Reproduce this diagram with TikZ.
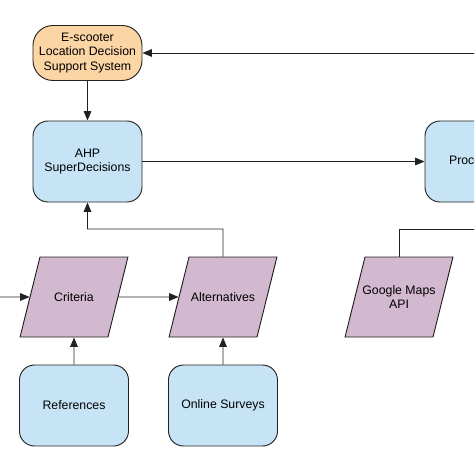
\documentclass[tikz,border=0pt]{standalone}
\usepackage{fontspec}
\setmainfont{Liberation Sans}
\usetikzlibrary{shapes.geometric, arrows.meta, positioning}
\usepackage{xcolor}
\definecolor{startfill}{RGB}{252,213,165}
\definecolor{procfill}{RGB}{198,228,246}
\definecolor{datafill}{RGB}{210,185,207}
\definecolor{edgecol}{RGB}{34,34,34}
\newcommand{\databox}[1]{\parbox[c][2.4cm][c]{2.04cm}{\centering #1}}
\tikzset{
    terminal/.style={rectangle, rounded corners=0.6cm, draw=edgecol, line width=0.8pt, fill=startfill, minimum width=3.27cm, minimum height=1.65cm, align=center},
    process/.style={rectangle, rounded corners=0.45cm, draw=edgecol, line width=0.8pt, fill=procfill, minimum width=3.27cm, minimum height=2.43cm, align=center},
    datanode/.style={trapezium, trapezium left angle=76, trapezium right angle=104, draw=edgecol, line width=0.8pt, fill=datafill, inner sep=0pt},
    arrow/.style={edgecol, line width=0.8pt, ->, >={Triangle[length=8pt,width=6.5pt]}},
    link/.style={edgecol, line width=0.8pt}
}
\begin{document}
\begin{tikzpicture}[x=0.03cm, y=-0.03cm, every node/.style={font=\fontsize{10.5}{12.5}\selectfont}]
        \useasboundingbox (0,0) rectangle (474,474);
        \clip (0,0) rectangle (474,474);
        % nodes
        \node[terminal] (ldss) at (87.5,53) {E-scooter\\Location Decision\\Support System};
        \node[process] (ahp) at (87.5,161.5) {AHP\\SuperDecisions};
        \node[process] (proc) at (479.5,161.5) {Processing};
        \node[datanode] (crit) at (74,297) {\databox{Criteria}};
        \node[datanode] (alt) at (223,297) {\databox{Alternatives}};
        \node[datanode] (gmaps) at (399,297) {\databox{\makebox[2.04cm]{Google Maps}\\API}};
        \node[process] (refs) at (74,405.5) {References};
        \node[process] (surv) at (223,405.5) {Online Surveys};
        % connectors
        \coordinate (fbin) at (500,53);
        \coordinate (critin) at (-20,297);
        \coordinate (altup) at (223,229);
        \coordinate (gmapsout) at (500,229);
        \draw[arrow] (fbin) -- (ldss);
        \draw[arrow] (ldss) -- (ahp);
        \draw[arrow] (ahp) -- (proc);
        \draw[arrow] (alt.north) -- (altup) -| (ahp.south);
        \draw[link] (gmaps.north) |- (gmapsout);
        \draw[arrow] (critin) -- (crit);
        \draw[arrow] (crit) -- (alt);
        \draw[arrow] (refs) -- (crit);
        \draw[arrow] (surv) -- (alt);
    \end{tikzpicture}
\end{document}
